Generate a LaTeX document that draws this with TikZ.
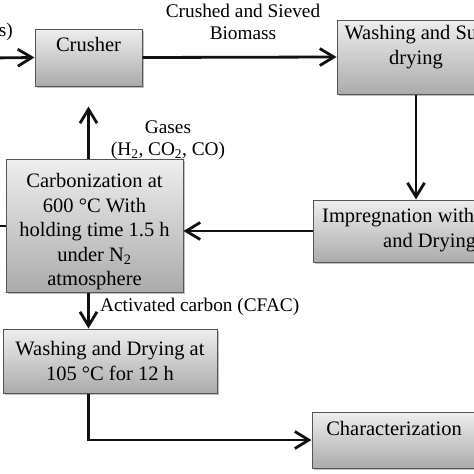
\documentclass[tikz,border=0pt]{standalone}
\usepackage{fontspec}
\setmainfont{Liberation Serif}
\usetikzlibrary{arrows.meta,positioning,shadows}
\definecolor{ink}{HTML}{111111}
\definecolor{boxedge}{HTML}{555555}
\definecolor{boxtop}{HTML}{EEEEEE}
\definecolor{boxbot}{HTML}{ABABAB}
\tikzset{
  procbox/.style={draw=boxedge, line width=1pt,
                  top color=boxtop, bottom color=boxbot,
                  drop shadow={shadow xshift=1.5pt,shadow yshift=-1.5pt,fill=gray,opacity=0.5},
                  align=center, inner sep=2pt,
                  font=\fontsize{20.5}{24.5}\selectfont},
  boxtext/.style={inner sep=0pt, font=\fontsize{20.5}{24.5}\selectfont},
  flowarr/.style={-{Straight Barb[length=14pt,width=17pt]},line width=2.8pt,draw=ink},
  flowline/.style={line width=2.8pt,draw=ink},
  flowlabel/.style={align=center,inner sep=0pt,font=\fontsize{19.3}{21.5}\selectfont}
}

\begin{document}
\begin{tikzpicture}[x=1pt,y=-1pt]
  \useasboundingbox (0,0) rectangle (474,474);
  \clip (0,0) rectangle (474,474);

  % Top row
  \node[procbox,minimum width=107pt,minimum height=57pt] (crusher) at (88.5,57.5) {Crusher\\[-6pt]\strut};
  \node[procbox,minimum width=158pt,minimum height=74pt] (washsun) at (416,57) {Washing and Sun\\drying\\[-8pt]\strut};

  % Middle row
  \node[procbox,minimum width=177pt,minimum height=128pt] (carbon) at (94.5,226) {%
    \rule{0pt}{26pt}Carbonization at\\600 °C With\\holding time 1.5 h\\under N\textsubscript{2}\\atmosphere};
  \node[procbox,minimum width=212pt,minimum height=62pt] (impreg) at (419,231) {};
  \node[boxtext,anchor=west,align=left] (impregtext) at (322,230) {%
    Impregnation with\\\hspace*{61pt}and Drying};

  % Bottom row
  \node[procbox,minimum width=214pt,minimum height=64pt] (washdry) at (110,361) {%
    Washing and Drying at\\105 °C for 12 h};
  \node[procbox,minimum width=164pt,minimum height=56pt] (charact) at (394,440) {Characterization\\[-8pt]\strut};

  % Labels on the flows
  \node[flowlabel] (crushlbl) at (243,22) {Crushed and Sieved\\Biomass};
  \node[flowlabel] (gaslbl) at (168,140) {Gases\\(H\textsubscript{2}, CO\textsubscript{2}, CO)};
  \node[flowlabel,anchor=west] (aclbl) at (100,307) {Activated carbon (CFAC)};
  \node[flowlabel,anchor=east] (rawlbl) at (13,32) {s)};
  \coordinate (rawin) at (-10,58);
  \coordinate (recycle) at (-10,226);

  % Flows
  \draw[flowarr] (rawin) -- (crusher.west);
  \draw[flowarr] (crusher.east) -- (washsun.west);
  \draw[flowarr] (washsun.south) -- (washsun.south |- impreg.north);
  \draw[flowarr] (impreg.west) -- (impreg.west -| carbon.east);
  \draw[flowline] (carbon.west) -- (recycle);
  \draw[flowarr,shorten >=20pt] (carbon.north -| crusher.south) -- (crusher.south);
  \draw[flowarr] (carbon.south -| crusher.south) -- (washdry.north -| crusher.south);
  \draw[flowarr] (washdry.south -| crusher.south) |- (charact.west);
\end{tikzpicture}
\end{document}
